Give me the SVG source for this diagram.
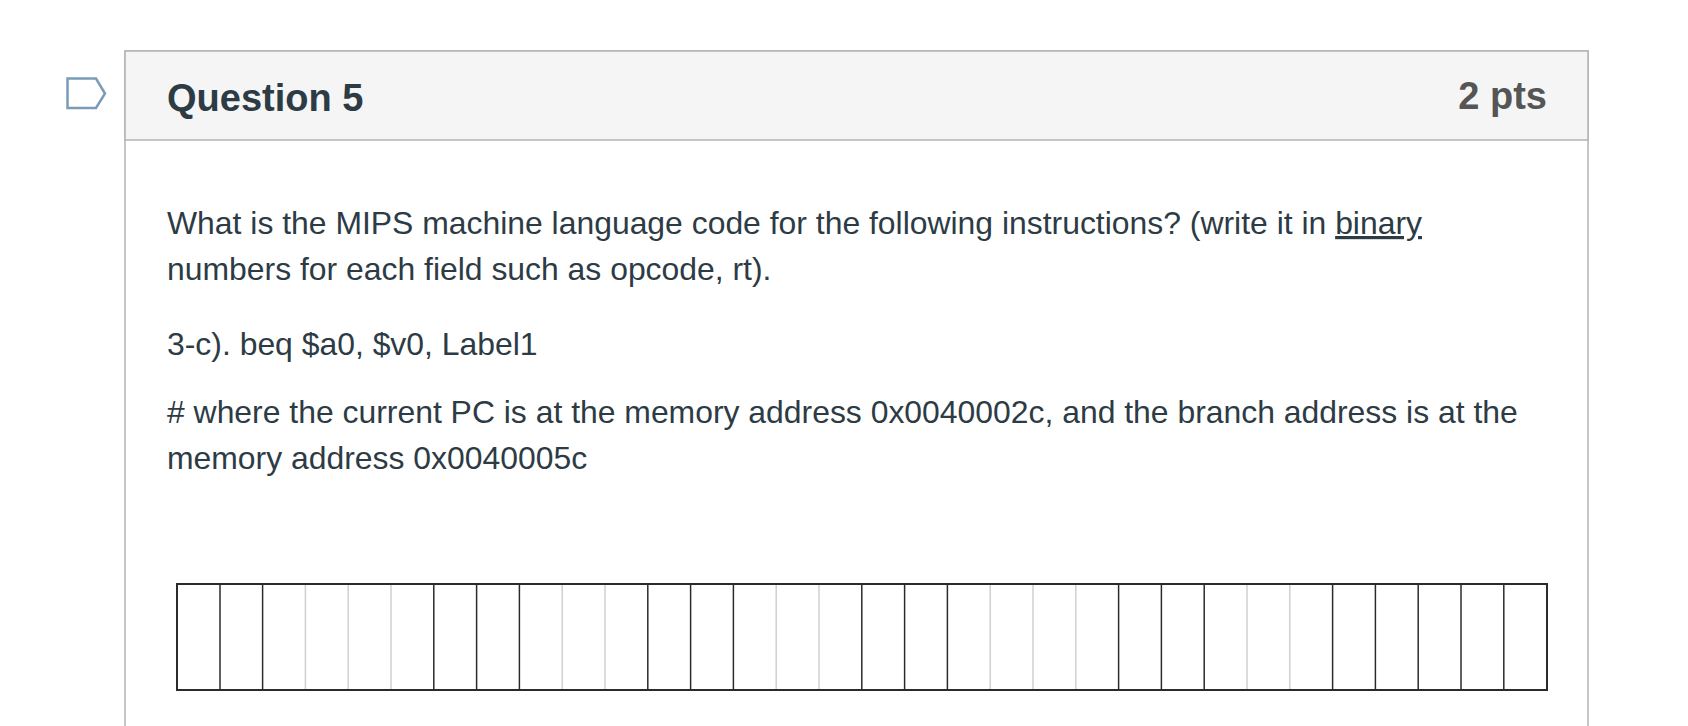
<svg xmlns="http://www.w3.org/2000/svg" width="1688" height="726" viewBox="0 0 1688 726">
<style>
.t{font-family:"Liberation Sans",Arial,sans-serif;fill:#2d3b45;font-size:31.9px}
.h{font-family:"Liberation Sans",Arial,sans-serif;font-weight:bold;font-size:38px}
.d{stroke:#2b2b2b;stroke-width:1.5}
.l{stroke:#d0d0d0;stroke-width:1.5}
</style>
<rect width="1688" height="726" fill="#fff"/>
<g id="icon"><path d="M67.5,78.5 H96 L105,93.5 L96,108 H67.5 Z" fill="none" stroke="#7a9cb8" stroke-width="2.5"/></g>
<g id="card">
<rect x="125" y="51" width="1463" height="690" fill="#fff" stroke="#b3b3b3" stroke-width="1.5"/>
<rect x="125" y="51" width="1463" height="89" fill="#f5f5f5" stroke="#b3b3b3" stroke-width="1.5"/>
<text class="h" x="167" y="111" fill="#2d3b45">Question 5</text>
<text class="h" x="1547" y="109" fill="#555" text-anchor="end" font-size="31">2 pts</text>
</g>
<g id="body">
<text class="t" x="167" y="234">What is the MIPS machine language code for the following instructions? (write it in <tspan text-decoration="underline">binary</tspan></text>
<text class="t" x="167" y="280">numbers for each field such as opcode, rt).</text>
<text class="t" x="167" y="355">3-c). beq $a0, $v0, Label1</text>
<text class="t" x="167" y="423"># where the current PC is at the memory address 0x0040002c, and the branch address is at the</text>
<text class="t" x="167" y="469">memory address 0x0040005c</text>
</g>
<g id="grid">
<g class="l">
<line x1="305.4" y1="584" x2="305.4" y2="690"/><line x1="348.2" y1="584" x2="348.2" y2="690"/><line x1="391" y1="584" x2="391" y2="690"/>
<line x1="562.2" y1="584" x2="562.2" y2="690"/><line x1="605" y1="584" x2="605" y2="690"/>
<line x1="776.2" y1="584" x2="776.2" y2="690"/><line x1="819" y1="584" x2="819" y2="690"/>
<line x1="990.2" y1="584" x2="990.2" y2="690"/><line x1="1033" y1="584" x2="1033" y2="690"/><line x1="1075.8" y1="584" x2="1075.8" y2="690"/>
<line x1="1247" y1="584" x2="1247" y2="690"/><line x1="1289.8" y1="584" x2="1289.8" y2="690"/>
</g>
<g class="d">
<line x1="220" y1="584" x2="220" y2="690"/><line x1="262.6" y1="584" x2="262.6" y2="690"/>
<line x1="433.8" y1="584" x2="433.8" y2="690"/><line x1="476.6" y1="584" x2="476.6" y2="690"/><line x1="519.4" y1="584" x2="519.4" y2="690"/>
<line x1="647.8" y1="584" x2="647.8" y2="690"/><line x1="690.6" y1="584" x2="690.6" y2="690"/><line x1="733.4" y1="584" x2="733.4" y2="690"/>
<line x1="861.8" y1="584" x2="861.8" y2="690"/><line x1="904.6" y1="584" x2="904.6" y2="690"/><line x1="947.4" y1="584" x2="947.4" y2="690"/>
<line x1="1118.6" y1="584" x2="1118.6" y2="690"/><line x1="1161.4" y1="584" x2="1161.4" y2="690"/><line x1="1204.2" y1="584" x2="1204.2" y2="690"/>
<line x1="1332.6" y1="584" x2="1332.6" y2="690"/><line x1="1375.4" y1="584" x2="1375.4" y2="690"/><line x1="1418.2" y1="584" x2="1418.2" y2="690"/>
<line x1="1461" y1="584" x2="1461" y2="690"/><line x1="1503.8" y1="584" x2="1503.8" y2="690"/>
<rect x="177" y="584" width="1370" height="106" fill="none" stroke-width="2"/>
</g>
</g>
</svg>
